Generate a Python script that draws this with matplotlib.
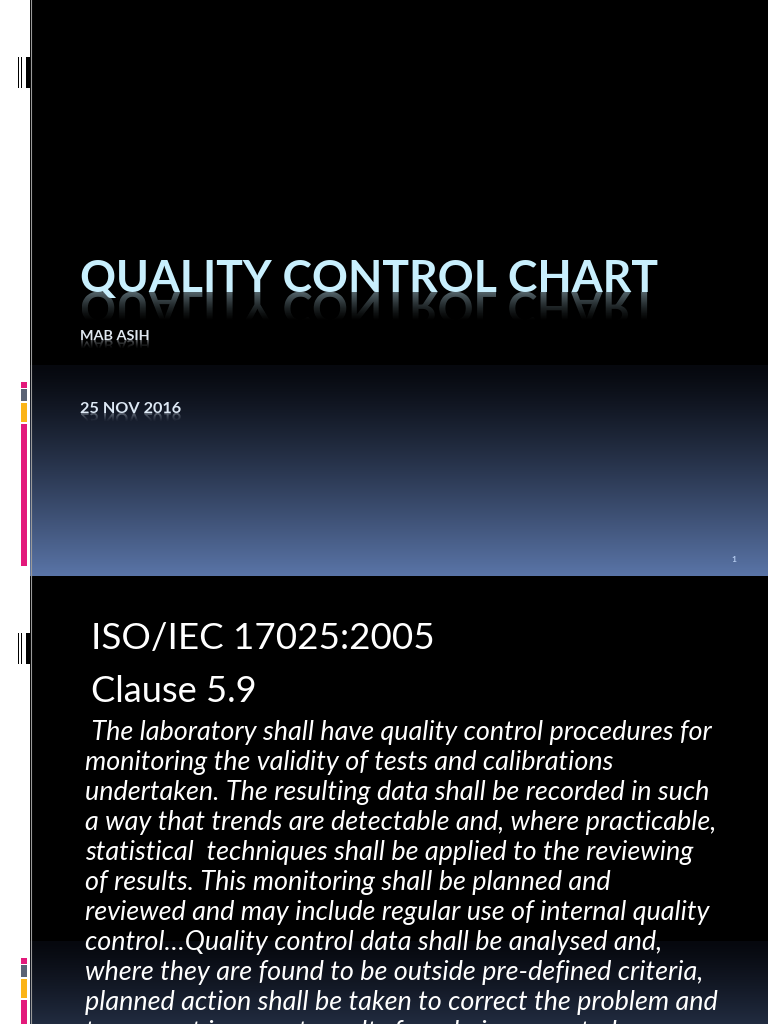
import numpy as np
import matplotlib
matplotlib.use("Agg")
import matplotlib.pyplot as plt
from matplotlib.textpath import TextPath
from matplotlib.patches import PathPatch, Rectangle
from matplotlib.transforms import Affine2D
from matplotlib.colors import to_rgb

W, H, DPI = 768, 1024, 100
SLIDE_X = 30      # left edge of the slides
SLIDE_H = 576     # height of one slide in the page

# ---- slide 1 ----
title = "QUALITY CONTROL CHART"
author = "MAB ASIH"
date = "25 NOV 2016"
slide_no = "1"

# ---- slide 2 ----
heading_lines = ["ISO/IEC 17025:2005", "Clause 5.9"]
body_lines = [
    " The laboratory shall have quality control procedures for",
    "monitoring the validity of tests and calibrations",
    "undertaken. The resulting data shall be recorded in such",
    "a way that trends are detectable and, where practicable,",
    "statistical  techniques shall be applied to the reviewing",
    "of results. This monitoring shall be planned and",
    "reviewed and may include regular use of internal quality",
    "control\u2026Quality control data shall be analysed and,",
    "where they are found to be outside pre-defined criteria,",
    "planned action shall be taken to correct the problem and",
    "to prevent incorrect results from being reported.",
]

# coloured marks on the left margin (start, end in slide coords)
mark_start = [382, 389, 403, 424]
mark_end = [388, 401, 422, 566]
mark_color = ["#e3197b", "#5b6375", "#fbb417", "#e3197b"]

FONT = "Lato"
GRAD_START = 365


def slide_background():
    # black on top, fading into a slate blue at the bottom
    y = np.arange(SLIDE_H)
    t = np.clip((y - GRAD_START) / (SLIDE_H - GRAD_START), 0, 1) ** 1.2
    top = np.array([6, 8, 14]) / 255
    bot = np.array([90, 117, 168]) / 255
    rgb = top[None, :] * (1 - t[:, None]) + bot[None, :] * t[:, None]
    rgb[y < GRAD_START] = 0
    return rgb[:, None, :]


def fit_text(ax, x, y, s, width, **kw):
    t = ax.text(x, y, s, fontsize=20, va="baseline", ha="left", **kw)
    r = ax.figure.canvas.get_renderer()
    w = t.get_window_extent(r).width
    t.set_fontsize(20 * width / w)
    return t


def reflect(ax, t, depth, alpha0):
    # mirrored copy under the baseline, fading out
    x, y = t.get_position()
    size_px = t.get_fontsize() * DPI / 72
    path = TextPath((0, 0), t.get_text(), size=size_px, prop=t.get_fontproperties())
    path = Affine2D().translate(x, y).transform_path(path)   # y axis points down -> flipped
    patch = PathPatch(path, fc="none", ec="none")
    ax.add_patch(patch)
    ext = path.get_extents()
    grad = np.zeros((64, 1, 4))
    grad[..., :3] = to_rgb(t.get_color())
    grad[:, 0, 3] = alpha0 * np.linspace(1, 0, 64) ** 1.4
    im = ax.imshow(grad, extent=(ext.x0, ext.x1, y + depth, y), aspect="auto",
                   interpolation="bilinear", zorder=2)
    im.set_clip_path(patch)


def left_marks(ax, top):
    for x0, x1 in [(18, 19.2), (20.6, 22.0), (26, 30)]:
        ax.add_patch(Rectangle((x0, top + 57), x1 - x0, 31, fc="black", ec="none"))
    for y0, y1, c in zip(mark_start, mark_end, mark_color):
        ax.add_patch(Rectangle((21, top + y0), 6, y1 - y0, fc=c, ec="none"))


fig = plt.figure(figsize=(W / DPI, H / DPI), dpi=DPI, facecolor="white")
ax = fig.add_axes([0, 0, 1, 1])
ax.set_xlim(0, W)
ax.set_ylim(H, 0)
ax.set_autoscale_on(False)
ax.axis("off")

bg = slide_background()
for top in [0, SLIDE_H]:
    ax.imshow(bg, extent=(SLIDE_X, W, top + SLIDE_H, top), aspect="auto",
              interpolation="bilinear", zorder=0)
    ax.plot([SLIDE_X + 0.5, SLIDE_X + 0.5], [top, top + SLIDE_H], color="#9a9a9a", lw=0.8, zorder=1)
    left_marks(ax, top)

# slide 1 text
t = fit_text(ax, 80, 292, title, 577, color="#c8effd", family=FONT, weight="bold")
reflect(ax, t, 30, 0.42)
t = fit_text(ax, 80, 340, author, 70, color="#dfe7ef", family=FONT, weight="bold")
reflect(ax, t, 9, 0.4)
t = fit_text(ax, 80, 413, date, 101, color="#dde8f4", family=FONT, weight="bold")
reflect(ax, t, 9, 0.4)
ax.text(734, 560, slide_no, fontsize=6, color="#b4cbef", family=FONT,
        weight="bold", ha="center", va="center")

# slide 2 text
fit_text(ax, 91, 649, heading_lines[0], 343, color="white", family=FONT)
fit_text(ax, 91, 702, heading_lines[1], 166, color="white", family=FONT)
ref = fit_text(ax, 85, 1010, body_lines[9], 633, color="white", family=FONT, style="italic")
body_fs = ref.get_fontsize()
ref.remove()
for i, line in enumerate(body_lines):
    ax.text(85, 740 + 30 * i, line, fontsize=body_fs, color="white", family=FONT,
            style="italic", va="baseline", ha="left")

fig.savefig("out.png", dpi=DPI, facecolor="white")
